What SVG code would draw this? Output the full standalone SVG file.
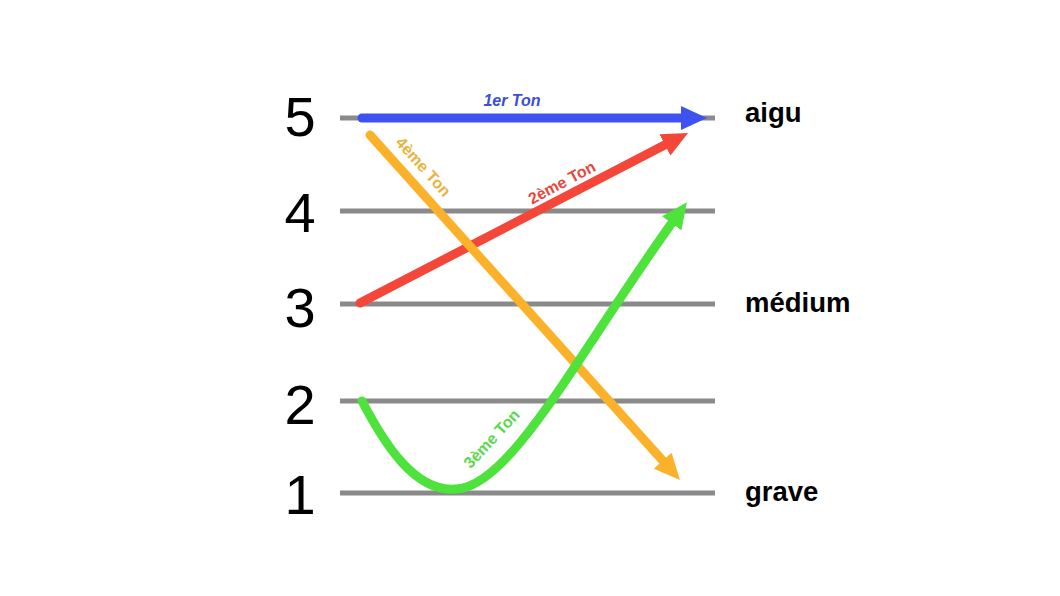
<svg xmlns="http://www.w3.org/2000/svg" width="1060" height="596" viewBox="0 0 1060 596">
<style>
.staff{stroke:#8a8a8a;stroke-width:5;fill:none}
.num{font-family:"Liberation Sans",Arial,sans-serif;font-size:56px;fill:#000;text-anchor:middle}
.reg{font-family:"Liberation Sans",Arial,sans-serif;font-size:27.5px;font-weight:bold;fill:#000}
.arr{fill:none;stroke-width:9;stroke-linecap:round;stroke-linejoin:round}
.lbl{font-family:"Liberation Sans",Arial,sans-serif;font-size:16px;font-weight:bold;text-anchor:middle}
</style>
<defs>
<marker id="hb" markerUnits="userSpaceOnUse" markerWidth="26" markerHeight="24" viewBox="0 0 26 24" refX="4" refY="12" orient="auto"><path d="M0,0 L26,12 L0,24 z" fill="#3d52f0"/></marker>
<marker id="hr" markerUnits="userSpaceOnUse" markerWidth="26" markerHeight="24" viewBox="0 0 26 24" refX="4" refY="12" orient="auto"><path d="M0,0 L26,12 L0,24 z" fill="#f4473a"/></marker>
<marker id="ho" markerUnits="userSpaceOnUse" markerWidth="26" markerHeight="24" viewBox="0 0 26 24" refX="4" refY="12" orient="auto"><path d="M0,0 L26,12 L0,24 z" fill="#fbb22a"/></marker>
<marker id="hg" markerUnits="userSpaceOnUse" markerWidth="26" markerHeight="24" viewBox="0 0 26 24" refX="4" refY="12" orient="auto"><path d="M0,0 L26,12 L0,24 z" fill="#4ee23c"/></marker>
</defs>
<rect width="1060" height="596" fill="#fff"/>
<g id="staff">
<line class="staff" x1="340" y1="118" x2="715" y2="118"/>
<line class="staff" x1="340" y1="211" x2="715" y2="211"/>
<line class="staff" x1="340" y1="304" x2="715" y2="304"/>
<line class="staff" x1="340" y1="401" x2="715" y2="401"/>
<line class="staff" x1="340" y1="493" x2="715" y2="493"/>
</g>
<g id="numbers">
<text class="num" x="300" y="136">5</text>
<text class="num" x="300" y="232">4</text>
<text class="num" x="300" y="327">3</text>
<text class="num" x="300" y="424">2</text>
<text class="num" x="300" y="514">1</text>
</g>
<g id="registers">
<text class="reg" x="745" y="122">aigu</text>
<text class="reg" x="745" y="312">médium</text>
<text class="reg" x="745" y="501">grave</text>
</g>
<g id="connectors">
<g id="ton1"><line class="arr" stroke="#3d52f0" x1="362" y1="118" x2="685" y2="118" marker-end="url(#hb)"/></g>
<g id="ton2"><line class="arr" stroke="#f4473a" x1="360" y1="303" x2="668.5" y2="143.1" marker-end="url(#hr)"/></g>
<g id="ton4"><line class="arr" stroke="#fbb22a" x1="370" y1="135" x2="665.3" y2="463.6" marker-end="url(#ho)"/></g>
<g id="ton3"><path class="arr" stroke="#4ee23c" d="M362,401 C385,445 415,492 455,489 C510,489 580,350 674,220" marker-end="url(#hg)"/></g>
</g>
<g id="labels">
<text class="lbl" x="512" y="106" fill="#3b4ed6" font-style="italic">1er Ton</text>
<text class="lbl" fill="#e8473c" transform="translate(562,183) rotate(-28)" y="5">2ème Ton</text>
<text class="lbl" fill="#e9b33e" transform="translate(423,167) rotate(48)" y="5">4ème Ton</text>
<text class="lbl" fill="#5cd84e" transform="translate(492,439) rotate(-47)" y="5">3ème Ton</text>
</g>
</svg>
